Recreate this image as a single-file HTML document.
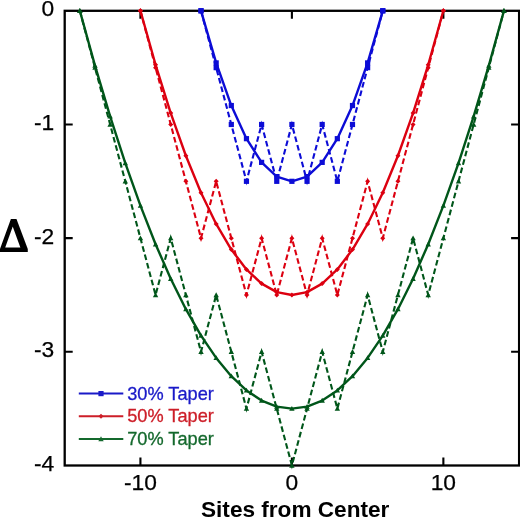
<!DOCTYPE html>
<html><head><meta charset="utf-8"><title>Taper plot</title>
<style>html,body{margin:0;padding:0;background:#fff}body{width:520px;height:518px;overflow:hidden}</style>
</head><body>
<svg width="520" height="518" viewBox="0 0 520 518" style="display:block">
<rect width="520" height="518" fill="#fff"/>
<rect x="64.7" y="10.8" width="454.40000000000003" height="454.7" fill="none" stroke="#000" stroke-width="2.3"/>
<path d="M140.43 465.5v-8M140.43 10.8v8" stroke="#000" stroke-width="2.1" fill="none"/>
<path d="M291.90 465.5v-8M291.90 10.8v8" stroke="#000" stroke-width="2.1" fill="none"/>
<path d="M443.37 465.5v-8M443.37 10.8v8" stroke="#000" stroke-width="2.1" fill="none"/>
<path d="M64.7 124.47h8M519.1 124.47h-8" stroke="#000" stroke-width="2.1" fill="none"/>
<path d="M64.7 238.15h8M519.1 238.15h-8" stroke="#000" stroke-width="2.1" fill="none"/>
<path d="M64.7 351.82h8M519.1 351.82h-8" stroke="#000" stroke-width="2.1" fill="none"/>
<polyline points="79.85,10.80 94.99,65.61 110.14,116.36 125.29,163.04 140.43,205.67 155.58,244.24 170.73,278.75 185.87,309.20 201.02,335.59 216.17,357.91 231.31,376.18 246.46,390.39 261.61,400.54 276.75,406.63 291.90,408.66 307.05,406.63 322.19,400.54 337.34,390.39 352.49,376.18 367.63,357.91 382.78,335.59 397.93,309.20 413.07,278.75 428.22,244.24 443.37,205.67 458.51,163.04 473.66,116.36 488.81,65.61 503.95,10.80" fill="none" stroke="#00561a" stroke-width="2.4" stroke-linejoin="round"/>
<path d="M79.85 8.10L82.55 12.96L77.15 12.96Z" fill="#00561a"/>
<path d="M94.99 62.91L97.69 67.77L92.29 67.77Z" fill="#00561a"/>
<path d="M110.14 113.66L112.84 118.52L107.44 118.52Z" fill="#00561a"/>
<path d="M125.29 160.34L127.99 165.20L122.59 165.20Z" fill="#00561a"/>
<path d="M140.43 202.97L143.13 207.83L137.73 207.83Z" fill="#00561a"/>
<path d="M155.58 241.54L158.28 246.40L152.88 246.40Z" fill="#00561a"/>
<path d="M170.73 276.05L173.43 280.91L168.03 280.91Z" fill="#00561a"/>
<path d="M185.87 306.50L188.57 311.36L183.17 311.36Z" fill="#00561a"/>
<path d="M201.02 332.89L203.72 337.75L198.32 337.75Z" fill="#00561a"/>
<path d="M216.17 355.21L218.87 360.07L213.47 360.07Z" fill="#00561a"/>
<path d="M231.31 373.48L234.01 378.34L228.61 378.34Z" fill="#00561a"/>
<path d="M246.46 387.69L249.16 392.55L243.76 392.55Z" fill="#00561a"/>
<path d="M261.61 397.84L264.31 402.70L258.91 402.70Z" fill="#00561a"/>
<path d="M276.75 403.93L279.45 408.79L274.05 408.79Z" fill="#00561a"/>
<path d="M291.90 405.96L294.60 410.82L289.20 410.82Z" fill="#00561a"/>
<path d="M307.05 403.93L309.75 408.79L304.35 408.79Z" fill="#00561a"/>
<path d="M322.19 397.84L324.89 402.70L319.49 402.70Z" fill="#00561a"/>
<path d="M337.34 387.69L340.04 392.55L334.64 392.55Z" fill="#00561a"/>
<path d="M352.49 373.48L355.19 378.34L349.79 378.34Z" fill="#00561a"/>
<path d="M367.63 355.21L370.33 360.07L364.93 360.07Z" fill="#00561a"/>
<path d="M382.78 332.89L385.48 337.75L380.08 337.75Z" fill="#00561a"/>
<path d="M397.93 306.50L400.63 311.36L395.23 311.36Z" fill="#00561a"/>
<path d="M413.07 276.05L415.77 280.91L410.37 280.91Z" fill="#00561a"/>
<path d="M428.22 241.54L430.92 246.40L425.52 246.40Z" fill="#00561a"/>
<path d="M443.37 202.97L446.07 207.83L440.67 207.83Z" fill="#00561a"/>
<path d="M458.51 160.34L461.21 165.20L455.81 165.20Z" fill="#00561a"/>
<path d="M473.66 113.66L476.36 118.52L470.96 118.52Z" fill="#00561a"/>
<path d="M488.81 62.91L491.51 67.77L486.11 67.77Z" fill="#00561a"/>
<path d="M503.95 8.10L506.65 12.96L501.25 12.96Z" fill="#00561a"/>
<polyline points="79.85,10.80 94.99,67.64 110.14,124.47 125.29,181.31 140.43,238.15 155.58,294.99 170.73,238.15 185.87,294.99 201.02,351.82 216.17,294.99 231.31,351.82 246.46,408.66 261.61,351.82 276.75,408.66 291.90,465.50 307.05,408.66 322.19,351.82 337.34,408.66 352.49,351.82 367.63,294.99 382.78,351.82 397.93,294.99 413.07,238.15 428.22,294.99 443.37,238.15 458.51,181.31 473.66,124.47 488.81,67.64 503.95,10.80" fill="none" stroke="#00561a" stroke-width="2.1" stroke-dasharray="5.7 3" stroke-linejoin="miter"/>
<path d="M79.85 8.10L82.55 12.96L77.15 12.96Z" fill="#00561a"/>
<path d="M94.99 64.94L97.69 69.80L92.29 69.80Z" fill="#00561a"/>
<path d="M110.14 121.77L112.84 126.63L107.44 126.63Z" fill="#00561a"/>
<path d="M125.29 178.61L127.99 183.47L122.59 183.47Z" fill="#00561a"/>
<path d="M140.43 235.45L143.13 240.31L137.73 240.31Z" fill="#00561a"/>
<path d="M155.58 292.29L158.28 297.15L152.88 297.15Z" fill="#00561a"/>
<path d="M170.73 235.45L173.43 240.31L168.03 240.31Z" fill="#00561a"/>
<path d="M185.87 292.29L188.57 297.15L183.17 297.15Z" fill="#00561a"/>
<path d="M201.02 349.12L203.72 353.99L198.32 353.99Z" fill="#00561a"/>
<path d="M216.17 292.29L218.87 297.15L213.47 297.15Z" fill="#00561a"/>
<path d="M231.31 349.12L234.01 353.99L228.61 353.99Z" fill="#00561a"/>
<path d="M246.46 405.96L249.16 410.82L243.76 410.82Z" fill="#00561a"/>
<path d="M261.61 349.12L264.31 353.99L258.91 353.99Z" fill="#00561a"/>
<path d="M276.75 405.96L279.45 410.82L274.05 410.82Z" fill="#00561a"/>
<path d="M291.90 462.80L294.60 467.66L289.20 467.66Z" fill="#00561a"/>
<path d="M307.05 405.96L309.75 410.82L304.35 410.82Z" fill="#00561a"/>
<path d="M322.19 349.12L324.89 353.99L319.49 353.99Z" fill="#00561a"/>
<path d="M337.34 405.96L340.04 410.82L334.64 410.82Z" fill="#00561a"/>
<path d="M352.49 349.12L355.19 353.99L349.79 353.99Z" fill="#00561a"/>
<path d="M367.63 292.29L370.33 297.15L364.93 297.15Z" fill="#00561a"/>
<path d="M382.78 349.12L385.48 353.99L380.08 353.99Z" fill="#00561a"/>
<path d="M397.93 292.29L400.63 297.15L395.23 297.15Z" fill="#00561a"/>
<path d="M413.07 235.45L415.77 240.31L410.37 240.31Z" fill="#00561a"/>
<path d="M428.22 292.29L430.92 297.15L425.52 297.15Z" fill="#00561a"/>
<path d="M443.37 235.45L446.07 240.31L440.67 240.31Z" fill="#00561a"/>
<path d="M458.51 178.61L461.21 183.47L455.81 183.47Z" fill="#00561a"/>
<path d="M473.66 121.77L476.36 126.63L470.96 126.63Z" fill="#00561a"/>
<path d="M488.81 64.94L491.51 69.80L486.11 69.80Z" fill="#00561a"/>
<path d="M503.95 8.10L506.65 12.96L501.25 12.96Z" fill="#00561a"/>
<polyline points="140.43,10.80 155.58,64.80 170.73,113.11 185.87,155.74 201.02,192.68 216.17,223.94 231.31,249.52 246.46,269.41 261.61,283.62 276.75,292.15 291.90,294.99 307.05,292.15 322.19,283.62 337.34,269.41 352.49,249.52 367.63,223.94 382.78,192.68 397.93,155.74 413.07,113.11 428.22,64.80 443.37,10.80" fill="none" stroke="#dc0010" stroke-width="2.4" stroke-linejoin="round"/>
<path d="M140.43 8.30L142.93 10.80L140.43 13.30L137.93 10.80Z" fill="#dc0010"/>
<path d="M155.58 62.30L158.08 64.80L155.58 67.30L153.08 64.80Z" fill="#dc0010"/>
<path d="M170.73 110.61L173.23 113.11L170.73 115.61L168.23 113.11Z" fill="#dc0010"/>
<path d="M185.87 153.24L188.37 155.74L185.87 158.24L183.37 155.74Z" fill="#dc0010"/>
<path d="M201.02 190.18L203.52 192.68L201.02 195.18L198.52 192.68Z" fill="#dc0010"/>
<path d="M216.17 221.44L218.67 223.94L216.17 226.44L213.67 223.94Z" fill="#dc0010"/>
<path d="M231.31 247.02L233.81 249.52L231.31 252.02L228.81 249.52Z" fill="#dc0010"/>
<path d="M246.46 266.91L248.96 269.41L246.46 271.91L243.96 269.41Z" fill="#dc0010"/>
<path d="M261.61 281.12L264.11 283.62L261.61 286.12L259.11 283.62Z" fill="#dc0010"/>
<path d="M276.75 289.65L279.25 292.15L276.75 294.65L274.25 292.15Z" fill="#dc0010"/>
<path d="M291.90 292.49L294.40 294.99L291.90 297.49L289.40 294.99Z" fill="#dc0010"/>
<path d="M307.05 289.65L309.55 292.15L307.05 294.65L304.55 292.15Z" fill="#dc0010"/>
<path d="M322.19 281.12L324.69 283.62L322.19 286.12L319.69 283.62Z" fill="#dc0010"/>
<path d="M337.34 266.91L339.84 269.41L337.34 271.91L334.84 269.41Z" fill="#dc0010"/>
<path d="M352.49 247.02L354.99 249.52L352.49 252.02L349.99 249.52Z" fill="#dc0010"/>
<path d="M367.63 221.44L370.13 223.94L367.63 226.44L365.13 223.94Z" fill="#dc0010"/>
<path d="M382.78 190.18L385.28 192.68L382.78 195.18L380.28 192.68Z" fill="#dc0010"/>
<path d="M397.93 153.24L400.43 155.74L397.93 158.24L395.43 155.74Z" fill="#dc0010"/>
<path d="M413.07 110.61L415.57 113.11L413.07 115.61L410.57 113.11Z" fill="#dc0010"/>
<path d="M428.22 62.30L430.72 64.80L428.22 67.30L425.72 64.80Z" fill="#dc0010"/>
<path d="M443.37 8.30L445.87 10.80L443.37 13.30L440.87 10.80Z" fill="#dc0010"/>
<polyline points="140.43,10.80 155.58,67.64 170.73,124.47 185.87,181.31 201.02,238.15 216.17,181.31 231.31,238.15 246.46,294.99 261.61,238.15 276.75,294.99 291.90,238.15 307.05,294.99 322.19,238.15 337.34,294.99 352.49,238.15 367.63,181.31 382.78,238.15 397.93,181.31 413.07,124.47 428.22,67.64 443.37,10.80" fill="none" stroke="#dc0010" stroke-width="2.1" stroke-dasharray="5.7 3" stroke-linejoin="miter"/>
<path d="M140.43 8.30L142.93 10.80L140.43 13.30L137.93 10.80Z" fill="#dc0010"/>
<path d="M155.58 65.14L158.08 67.64L155.58 70.14L153.08 67.64Z" fill="#dc0010"/>
<path d="M170.73 121.97L173.23 124.47L170.73 126.97L168.23 124.47Z" fill="#dc0010"/>
<path d="M185.87 178.81L188.37 181.31L185.87 183.81L183.37 181.31Z" fill="#dc0010"/>
<path d="M201.02 235.65L203.52 238.15L201.02 240.65L198.52 238.15Z" fill="#dc0010"/>
<path d="M216.17 178.81L218.67 181.31L216.17 183.81L213.67 181.31Z" fill="#dc0010"/>
<path d="M231.31 235.65L233.81 238.15L231.31 240.65L228.81 238.15Z" fill="#dc0010"/>
<path d="M246.46 292.49L248.96 294.99L246.46 297.49L243.96 294.99Z" fill="#dc0010"/>
<path d="M261.61 235.65L264.11 238.15L261.61 240.65L259.11 238.15Z" fill="#dc0010"/>
<path d="M276.75 292.49L279.25 294.99L276.75 297.49L274.25 294.99Z" fill="#dc0010"/>
<path d="M291.90 235.65L294.40 238.15L291.90 240.65L289.40 238.15Z" fill="#dc0010"/>
<path d="M307.05 292.49L309.55 294.99L307.05 297.49L304.55 294.99Z" fill="#dc0010"/>
<path d="M322.19 235.65L324.69 238.15L322.19 240.65L319.69 238.15Z" fill="#dc0010"/>
<path d="M337.34 292.49L339.84 294.99L337.34 297.49L334.84 294.99Z" fill="#dc0010"/>
<path d="M352.49 235.65L354.99 238.15L352.49 240.65L349.99 238.15Z" fill="#dc0010"/>
<path d="M367.63 178.81L370.13 181.31L367.63 183.81L365.13 181.31Z" fill="#dc0010"/>
<path d="M382.78 235.65L385.28 238.15L382.78 240.65L380.28 238.15Z" fill="#dc0010"/>
<path d="M397.93 178.81L400.43 181.31L397.93 183.81L395.43 181.31Z" fill="#dc0010"/>
<path d="M413.07 121.97L415.57 124.47L413.07 126.97L410.57 124.47Z" fill="#dc0010"/>
<path d="M428.22 65.14L430.72 67.64L428.22 70.14L425.72 67.64Z" fill="#dc0010"/>
<path d="M443.37 8.30L445.87 10.80L443.37 13.30L440.87 10.80Z" fill="#dc0010"/>
<polyline points="201.02,10.80 216.17,62.90 231.31,105.53 246.46,138.68 261.61,162.37 276.75,176.58 291.90,181.31 307.05,176.58 322.19,162.37 337.34,138.68 352.49,105.53 367.63,62.90 382.78,10.80" fill="none" stroke="#0c0cd6" stroke-width="2.4" stroke-linejoin="round"/>
<rect x="198.42" y="8.20" width="5.20" height="5.20" fill="#0c0cd6"/>
<rect x="213.57" y="60.30" width="5.20" height="5.20" fill="#0c0cd6"/>
<rect x="228.71" y="102.93" width="5.20" height="5.20" fill="#0c0cd6"/>
<rect x="243.86" y="136.08" width="5.20" height="5.20" fill="#0c0cd6"/>
<rect x="259.01" y="159.77" width="5.20" height="5.20" fill="#0c0cd6"/>
<rect x="274.15" y="173.98" width="5.20" height="5.20" fill="#0c0cd6"/>
<rect x="289.30" y="178.71" width="5.20" height="5.20" fill="#0c0cd6"/>
<rect x="304.45" y="173.98" width="5.20" height="5.20" fill="#0c0cd6"/>
<rect x="319.59" y="159.77" width="5.20" height="5.20" fill="#0c0cd6"/>
<rect x="334.74" y="136.08" width="5.20" height="5.20" fill="#0c0cd6"/>
<rect x="349.89" y="102.93" width="5.20" height="5.20" fill="#0c0cd6"/>
<rect x="365.03" y="60.30" width="5.20" height="5.20" fill="#0c0cd6"/>
<rect x="380.18" y="8.20" width="5.20" height="5.20" fill="#0c0cd6"/>
<polyline points="201.02,10.80 216.17,67.64 231.31,124.47 246.46,181.31 261.61,124.47 276.75,181.31 291.90,124.47 307.05,181.31 322.19,124.47 337.34,181.31 352.49,124.47 367.63,67.64 382.78,10.80" fill="none" stroke="#0c0cd6" stroke-width="2.1" stroke-dasharray="5.7 3" stroke-linejoin="miter"/>
<rect x="198.42" y="8.20" width="5.20" height="5.20" fill="#0c0cd6"/>
<rect x="213.57" y="65.04" width="5.20" height="5.20" fill="#0c0cd6"/>
<rect x="228.71" y="121.88" width="5.20" height="5.20" fill="#0c0cd6"/>
<rect x="243.86" y="178.71" width="5.20" height="5.20" fill="#0c0cd6"/>
<rect x="259.01" y="121.88" width="5.20" height="5.20" fill="#0c0cd6"/>
<rect x="274.15" y="178.71" width="5.20" height="5.20" fill="#0c0cd6"/>
<rect x="289.30" y="121.88" width="5.20" height="5.20" fill="#0c0cd6"/>
<rect x="304.45" y="178.71" width="5.20" height="5.20" fill="#0c0cd6"/>
<rect x="319.59" y="121.88" width="5.20" height="5.20" fill="#0c0cd6"/>
<rect x="334.74" y="178.71" width="5.20" height="5.20" fill="#0c0cd6"/>
<rect x="349.89" y="121.88" width="5.20" height="5.20" fill="#0c0cd6"/>
<rect x="365.03" y="65.04" width="5.20" height="5.20" fill="#0c0cd6"/>
<rect x="380.18" y="8.20" width="5.20" height="5.20" fill="#0c0cd6"/>
<text x="54.3" y="16.30" text-anchor="end" font-family="Liberation Sans, sans-serif" font-size="22.8" fill="#000" stroke="#000" stroke-width="0.25">0</text>
<text x="54.3" y="129.97" text-anchor="end" font-family="Liberation Sans, sans-serif" font-size="22.8" fill="#000" stroke="#000" stroke-width="0.25">-1</text>
<text x="54.3" y="243.65" text-anchor="end" font-family="Liberation Sans, sans-serif" font-size="22.8" fill="#000" stroke="#000" stroke-width="0.25">-2</text>
<text x="54.3" y="357.32" text-anchor="end" font-family="Liberation Sans, sans-serif" font-size="22.8" fill="#000" stroke="#000" stroke-width="0.25">-3</text>
<text x="54.3" y="471.00" text-anchor="end" font-family="Liberation Sans, sans-serif" font-size="22.8" fill="#000" stroke="#000" stroke-width="0.25">-4</text>
<text x="140.43" y="490.2" text-anchor="middle" font-family="Liberation Sans, sans-serif" font-size="22.8" fill="#000" stroke="#000" stroke-width="0.25">-10</text>
<text x="291.90" y="490.2" text-anchor="middle" font-family="Liberation Sans, sans-serif" font-size="22.8" fill="#000" stroke="#000" stroke-width="0.25">0</text>
<text x="443.37" y="490.2" text-anchor="middle" font-family="Liberation Sans, sans-serif" font-size="22.8" fill="#000" stroke="#000" stroke-width="0.25">10</text>
 <text x="295.2" y="517.2" text-anchor="middle" font-family="Liberation Sans, sans-serif" font-size="22.6" font-weight="bold" fill="#000">Sites from Center</text>
<text x="-0.8" y="250.9" font-family="Liberation Serif, serif" font-size="45.5" fill="#000" stroke="#000" stroke-width="2" stroke-linejoin="miter">Δ</text>
<path d="M78.8 393.6H123.3" stroke="#1a1ac8" stroke-width="2" fill="none"/>
<rect x="98.40" y="391.00" width="5.20" height="5.20" fill="#1a1ac8"/>
<text x="127.2" y="399.50" font-family="Liberation Sans, sans-serif" font-size="18.2" fill="#1a1ac8" stroke="#1a1ac8" stroke-width="0.3">30% Taper</text>
<path d="M78.8 416.3H123.3" stroke="#cd1e28" stroke-width="2" fill="none"/>
<path d="M101.00 413.80L103.50 416.30L101.00 418.80L98.50 416.30Z" fill="#cd1e28"/>
<text x="127.2" y="422.20" font-family="Liberation Sans, sans-serif" font-size="18.2" fill="#cd1e28" stroke="#cd1e28" stroke-width="0.3">50% Taper</text>
<path d="M78.8 439.0H123.3" stroke="#14692d" stroke-width="2" fill="none"/>
<path d="M101.00 436.30L103.70 441.16L98.30 441.16Z" fill="#14692d"/>
<text x="127.2" y="444.90" font-family="Liberation Sans, sans-serif" font-size="18.2" fill="#14692d" stroke="#14692d" stroke-width="0.3">70% Taper</text>
</svg>
</body></html>
